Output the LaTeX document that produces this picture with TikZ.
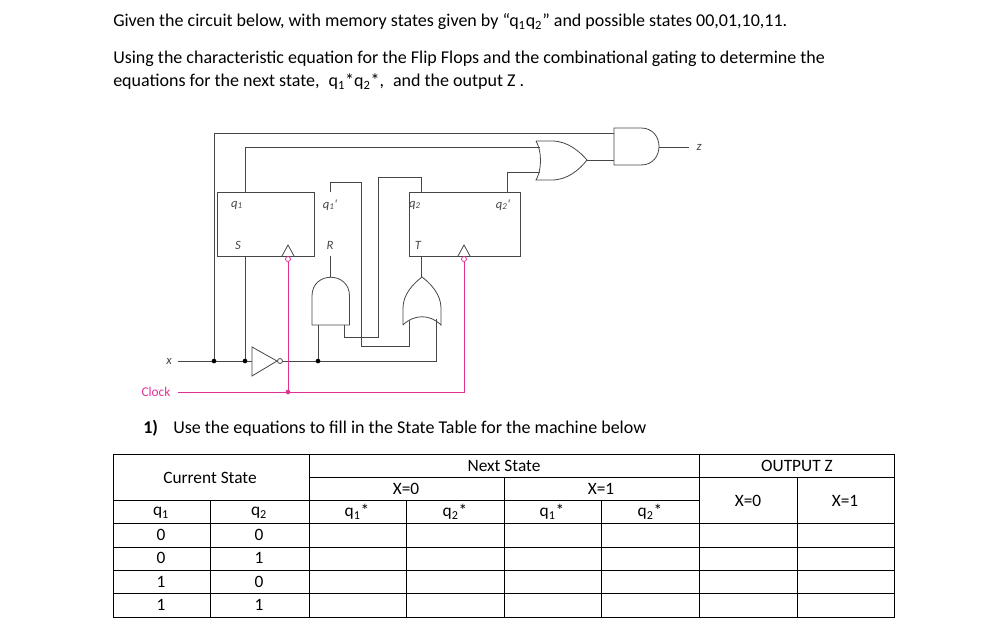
\documentclass[tikz,border=0pt]{standalone}
\usepackage{fontspec}
\setmainfont{Carlito}
\definecolor{mag}{RGB}{224,50,150}
\definecolor{wire}{RGB}{70,70,70}
\newcommand{\stt}{*}
\begin{document}
\begin{tikzpicture}[x=0.75pt,y=-0.75pt,
  txt/.style={anchor=base west,inner sep=0pt,font=\fontsize{13.5}{15}\selectfont},
  cell/.style={inner sep=0pt,font=\fontsize{13}{15}\selectfont},
  w/.style={draw=wire,line width=0.6pt},
  ck/.style={draw=mag,line width=0.6pt},
  lab/.style={inner sep=0pt,font=\fontsize{9.5}{10}\selectfont\itshape,text=wire},
  dot/.style={circle,fill=black,inner sep=0pt,minimum size=3.5pt},
  grid/.style={draw=black,line width=0.5pt}]
\useasboundingbox (0,0) rectangle (1008,642);
% text
\node[txt] (t1) at (113,27) {Given the circuit below, with memory states given by “q\textsubscript{1}q\textsubscript{2}” and possible states 00,01,10,11.};
\node[txt] (t2) at (113,64) {Using the characteristic equation for the Flip Flops and the combinational gating to determine the};
\node[txt] (t3) at (113,87) {equations for the next state,\enspace q\textsubscript{1}\stt q\textsubscript{2}\stt,\enspace and the output Z .};
\node[txt] (t4) at (143,433) {\textbf{1)}};
\node[txt] (t5) at (173,433) {Use the equations to fill in the State Table for the machine below};
% flip flops
\draw[w] (217,192) rectangle (314,256);
\draw[w] (409,192) rectangle (520,256);
\node[lab] (q1) at (237,205) {q\textsubscript{1}};
\node[lab] (q1p) at (330,205) {q\textsubscript{1}\textquotesingle};
\node[lab] (S) at (238,245) {S};
\node[lab] (R) at (330,245) {R};
\node[lab] (q2) at (415,205) {q\textsubscript{2}};
\node[lab] (q2p) at (503,205) {q\textsubscript{2}\textquotesingle};
\node[lab] (T) at (418,245) {T};
% clock triangles and bubbles
\draw[w] (282,256) -- (288,245) -- (294,256);
\draw[w] (458,256) -- (464,245) -- (470,256);
\draw[ck] (288,259) circle (2.5);
\draw[ck] (464,259) circle (2.5);
% gates
\draw[w] (614,128) -- (641,128) .. controls (665,128) and (665,165) .. (641,165) -- (614,165) -- cycle;
\draw[w] (536,141) -- (552,141) .. controls (568,141) and (580,152) .. (587,160)
   .. controls (580,169) and (568,180) .. (552,180) -- (536,180)
   .. controls (542,170) and (542,151) .. (536,141);
\draw[w] (312,325) -- (312,296) .. controls (312,271) and (349.5,271) .. (349.5,296) -- (349.5,325) -- cycle;
\draw[w] (403,325) -- (403,308) .. controls (403,294) and (414,283) .. (422,277)
   .. controls (430,283) and (441,294) .. (441,308) -- (441,325)
   .. controls (430,314) and (414,314) .. (403,325);
% inverter
\draw[w] (252,347) -- (277,361) -- (252,376) -- cycle;
\draw[w] (280,361) circle (2.5);
% wires
\draw[w] (178,361) -- (252,361);
\draw[w] (282.5,361) -- (436,361) -- (436,319);
\draw[w] (214,361) -- (214,133.5) -- (614,133.5);
\draw[w] (245,192) -- (245,147) -- (540,147);
\draw[w] (245,256) -- (245,361);
\draw[w] (587,160) -- (614,160);
\draw[w] (659,147) -- (689,147);
\draw[w] (507.5,192) -- (507.5,172) -- (540,172);
\draw[w] (330.5,192) -- (330.5,182) -- (361,182) -- (361,346) -- (409,346) -- (409,321);
\draw[w] (421.5,192) -- (421.5,177) -- (378,177) -- (378,337) -- (344,337) -- (344,325);
\draw[w] (318,325) -- (318,361);
\draw[w] (330.5,256) -- (330.5,277);
\draw[w] (421.5,256) -- (421.5,277);
\node[dot] (d1) at (214,361) {};
\node[dot] (d2) at (245,361) {};
\node[dot] (d3) at (318,361) {};
\node[lab] (x) at (169,361) {x};
\node[lab] (z) at (699,147) {z};
% clock
\draw[ck] (178,392) -- (464,392) -- (464,261.5);
\draw[ck] (288,392) -- (288,261.5);
\node[dot,fill=mag] (d4) at (288,392) {};
\node[inner sep=0pt,text=mag,font=\fontsize{10}{11}\selectfont] (clk) at (156,392) {Clock};
% table
\draw[grid] (113,454) rectangle (894,617);
\foreach \y in {523,547,570,593} \draw[grid] (113,\y) -- (894,\y);
\draw[grid] (113,500) -- (699,500);
\draw[grid] (309,477) -- (894,477);
\draw[grid] (309,454) -- (309,617);
\draw[grid] (699,454) -- (699,617);
\draw[grid] (504,477) -- (504,617);
\draw[grid] (797,477) -- (797,617);
\foreach \x in {210,406,601} \draw[grid] (\x,500) -- (\x,617);
\node[cell] (c1) at (210,478) {Current State};
\node[cell] (c2) at (504,466) {Next State};
\node[cell] (c3) at (797,466) {OUTPUT Z};
\node[cell] (c4) at (406,489) {X=0};
\node[cell] (c5) at (601,489) {X=1};
\node[cell] (c6) at (748,501) {X=0};
\node[cell] (c7) at (845,501) {X=1};
\node[cell] (h1) at (161,513) {q\textsubscript{1}};
\node[cell] (h2) at (259,513) {q\textsubscript{2}};
\node[cell] (h3) at (357,512) {q\textsubscript{1}\stt};
\node[cell] (h4) at (455,512) {q\textsubscript{2}\stt};
\node[cell] (h5) at (552,512) {q\textsubscript{1}\stt};
\node[cell] (h6) at (650,512) {q\textsubscript{2}\stt};
\foreach \a/\b/\y in {0/0/535,0/1/558,1/0/582,1/1/605}{
  \node[cell] at (161,\y) {\a};
  \node[cell] at (259,\y) {\b};}
\end{tikzpicture}
\end{document}
